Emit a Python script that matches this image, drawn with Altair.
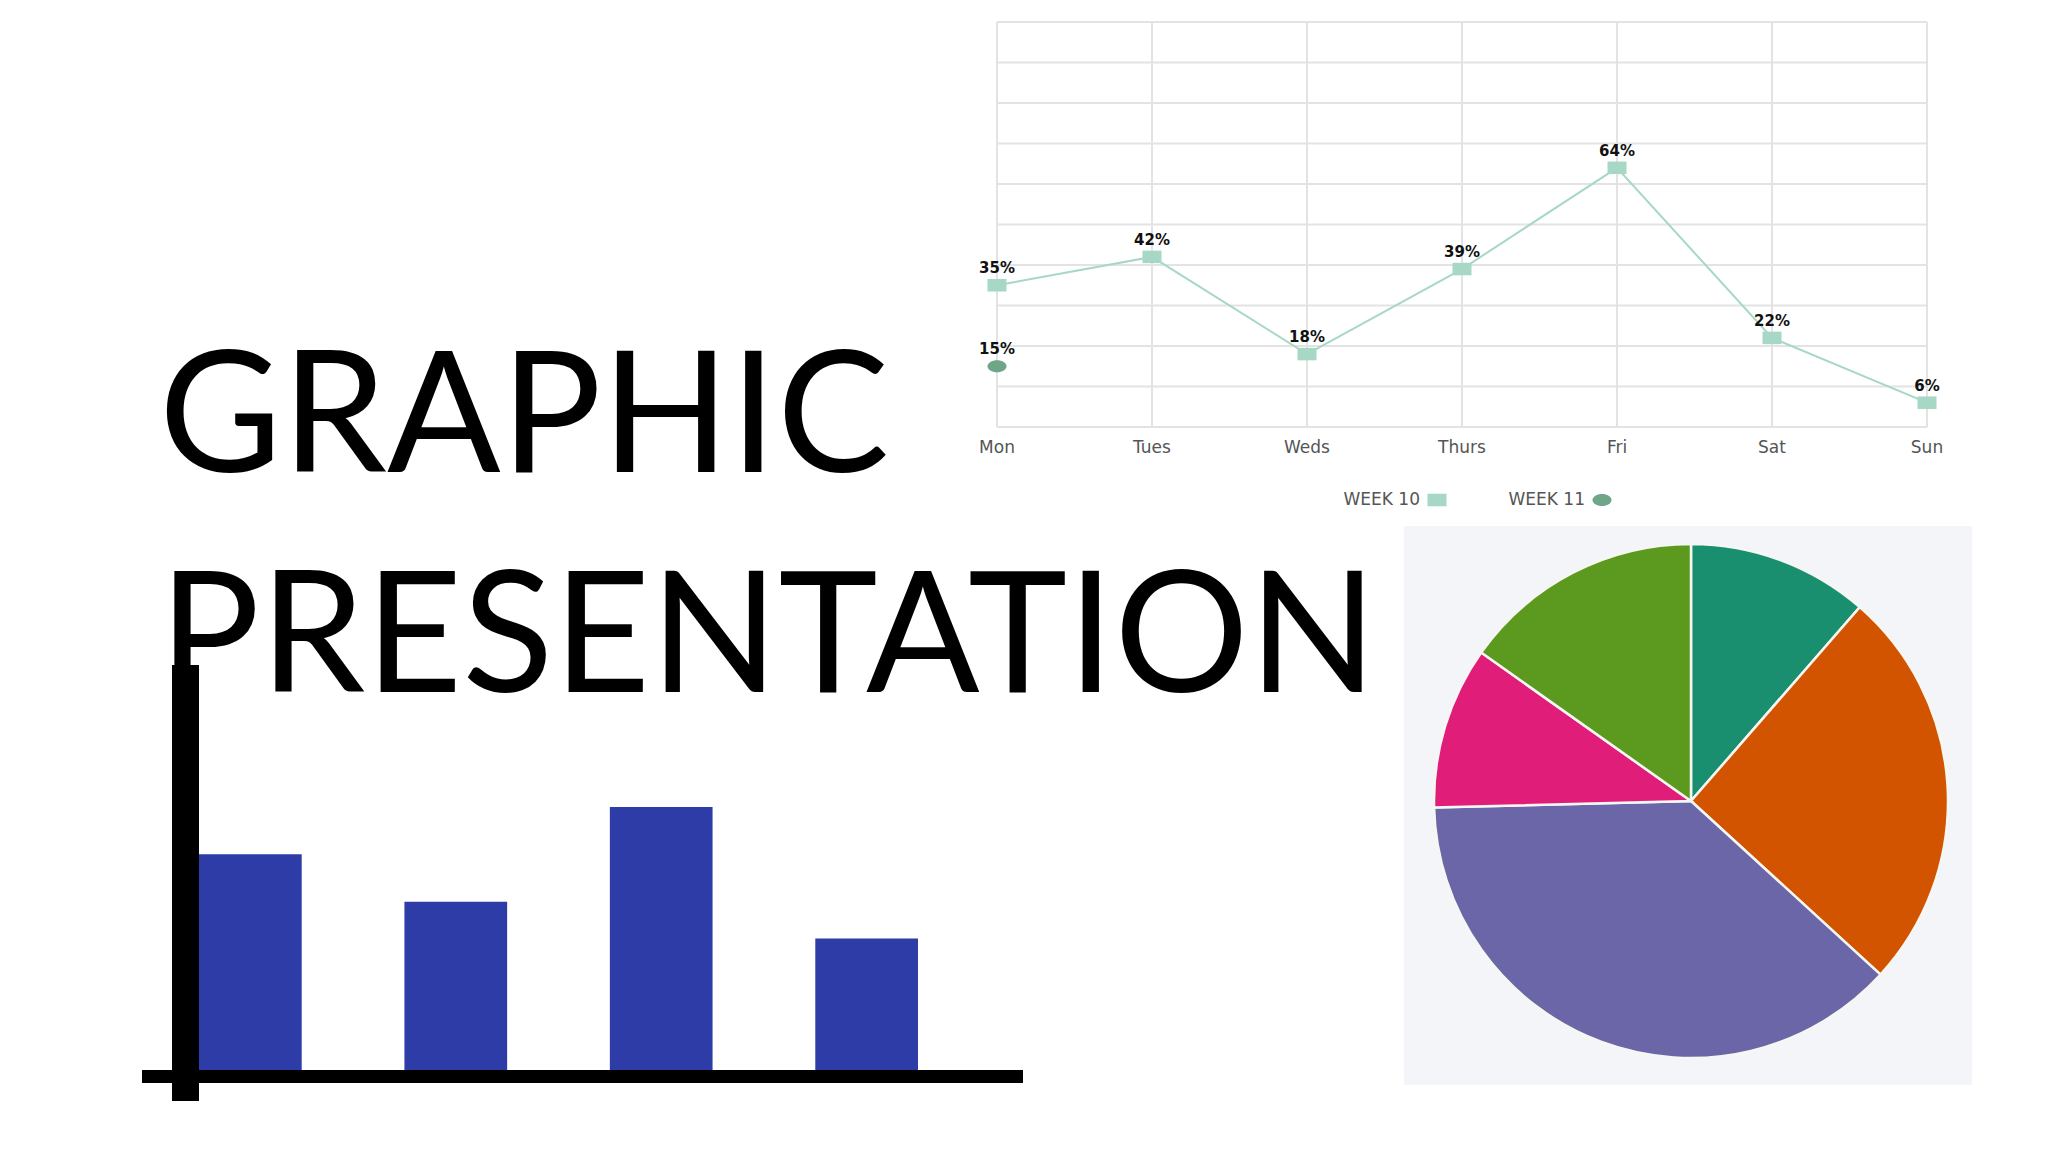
import altair as alt
import pandas as pd

# ---------------- data ----------------
days = ["Mon", "Tues", "Weds", "Thurs", "Fri", "Sat", "Sun"]
week10 = [35, 42, 18, 39, 64, 22, 6]
week11_days = ["Mon"]
week11 = [15]
grid_ticks = [0, 10, 20, 30, 40, 50, 60, 70, 80, 90, 100]
legend_labels = ["WEEK 10", "WEEK 11"]

bar_cats = ["A", "B", "C", "D"]
bar_vals = [41, 32, 50, 25]

pie_cats = ["Teal", "Orange", "Purple", "Pink", "Green"]
pie_vals = [11.4, 25.4, 37.8, 10.2, 15.2]
pie_colors = ["#1a8f6f", "#d35400", "#6a66a8", "#e01e7a", "#5c9a1f"]

title_lines = ["GRAPHIC", "PRESENTATION"]

W, H = 2032, 1136

# ---------------- scales ----------------
x_day = alt.Scale(type="point", domain=days, range=[989, 1919], padding=0)
y_pct = alt.Scale(domain=[0, 100], range=[419, 14])
x_bar = alt.Scale(type="band", domain=bar_cats, range=[191, 910], paddingInner=0.5, paddingOuter=0)
y_bar = alt.Scale(domain=[0, 50], range=[1062, 799])

SQ = "M-1,-0.66L1,-0.66L1,0.66L-1,0.66Z"
EL = "M-1,0A1,0.64,0,1,1,1,0A1,0.64,0,1,1,-1,0Z"
C10 = "#a6d8c5"
C11 = "#6fa688"

# ---------------- title ----------------
title_df = pd.DataFrame({"line": title_lines})
title = alt.Chart(title_df).mark_text(
    font="Lato", fontSize=168, align="left", baseline="alphabetic", color="#000000"
).encode(
    x=alt.value(151),
    y=alt.Y("line:N", scale=alt.Scale(type="point", domain=title_lines, range=[464, 684], padding=0), axis=None),
    text="line:N",
)

# ---------------- line chart ----------------
hgrid_df = pd.DataFrame({"tick": grid_ticks, "x0": days[0], "x1": days[-1]})
hgrid = alt.Chart(hgrid_df).mark_rule(color="#e3e3e3", strokeWidth=2).encode(
    x=alt.X("x0:N", scale=x_day, axis=None),
    x2="x1",
    y=alt.Y("tick:Q", scale=y_pct, axis=None),
)
vgrid_df = pd.DataFrame({"day": days, "lo": 0, "hi": 100})
vgrid = alt.Chart(vgrid_df).mark_rule(color="#e3e3e3", strokeWidth=2).encode(
    x=alt.X("day:N", scale=x_day, axis=None),
    y=alt.Y("lo:Q", scale=y_pct, axis=None),
    y2="hi",
)

w10_df = pd.DataFrame({"day": days, "v": week10, "lab": [f"{v}%" for v in week10]})
w11_df = pd.DataFrame({"day": week11_days, "v": week11, "lab": [f"{v}%" for v in week11]})

line10 = alt.Chart(w10_df).mark_line(color=C10, strokeWidth=2).encode(
    x=alt.X("day:N", scale=x_day, sort=days, axis=None),
    y=alt.Y("v:Q", scale=y_pct, axis=None),
)
pts10 = alt.Chart(w10_df).mark_point(shape=SQ, size=361, filled=True, color=C10, opacity=1).encode(
    x=alt.X("day:N", scale=x_day, axis=None),
    y=alt.Y("v:Q", scale=y_pct, axis=None),
)
pts11 = alt.Chart(w11_df).mark_point(shape=EL, size=361, filled=True, color=C11, opacity=1).encode(
    x=alt.X("day:N", scale=x_day, axis=None),
    y=alt.Y("v:Q", scale=y_pct, axis=None),
)
lab10 = alt.Chart(w10_df).mark_text(
    font="DejaVu Sans", fontWeight="bold", fontSize=15, dy=-17, color="#111111"
).encode(
    x=alt.X("day:N", scale=x_day, axis=None),
    y=alt.Y("v:Q", scale=y_pct, axis=None),
    text="lab:N",
)
lab11 = alt.Chart(w11_df).mark_text(
    font="DejaVu Sans", fontWeight="bold", fontSize=15, dy=-17, color="#111111"
).encode(
    x=alt.X("day:N", scale=x_day, axis=None),
    y=alt.Y("v:Q", scale=y_pct, axis=None),
    text="lab:N",
)
day_df = pd.DataFrame({"day": days})
day_labels = alt.Chart(day_df).mark_text(
    font="DejaVu Sans", fontSize=17, baseline="middle", dy=21, color="#555555"
).encode(
    x=alt.X("day:N", scale=x_day, axis=None),
    y=alt.YDatum(0, scale=y_pct, axis=None),
    text="day:N",
)

leg_df = pd.DataFrame({"lab": legend_labels})
x_leg = alt.Scale(type="point", domain=legend_labels, range=[1429, 1594], padding=0)
leg_sym10 = alt.Chart(pd.DataFrame({"lab": legend_labels[:1]})).mark_point(
    shape=SQ, size=361, filled=True, color=C10, opacity=1
).encode(x=alt.X("lab:N", scale=x_leg, axis=None), y=alt.value(492))
leg_sym11 = alt.Chart(pd.DataFrame({"lab": legend_labels[1:]})).mark_point(
    shape=EL, size=361, filled=True, color=C11, opacity=1
).encode(x=alt.X("lab:N", scale=x_leg, axis=None), y=alt.value(492))
leg_text = alt.Chart(leg_df).mark_text(
    font="DejaVu Sans", fontSize=17, align="right", baseline="middle", dx=-17, color="#555555"
).encode(x=alt.X("lab:N", scale=x_leg, axis=None), y=alt.value(492), text="lab:N")

# ---------------- bar chart ----------------
bar_df = pd.DataFrame({"cat": bar_cats, "v": bar_vals})
bars = alt.Chart(bar_df).mark_bar(color="#2e3ca8").encode(
    x=alt.X("cat:N", scale=x_bar, axis=None),
    y=alt.Y("v:Q", scale=y_bar, axis=None),
)
axis_df = pd.DataFrame({"k": [0]})
h_axis = alt.Chart(axis_df).mark_rule(color="#000000", strokeWidth=13).encode(
    x=alt.value(134), x2=alt.value(1015), y=alt.value(1068.5)
)
v_axis = alt.Chart(axis_df).mark_rule(color="#000000", strokeWidth=27).encode(
    x=alt.value(177.5), y=alt.value(657), y2=alt.value(1093)
)

# ---------------- pie ----------------
pie_bg = alt.Chart(axis_df).mark_rect(color="#f4f5f9").encode(
    x=alt.value(1396), x2=alt.value(1964), y=alt.value(518), y2=alt.value(1077)
)
pie_df = pd.DataFrame({"cat": pie_cats, "v": pie_vals, "idx": list(range(len(pie_cats)))})
pie = alt.Chart(pie_df).mark_arc(outerRadius=257, stroke="#f6f6f2", strokeWidth=2.5).encode(
    theta=alt.Theta("v:Q", stack=True),
    order=alt.Order("idx:Q"),
    color=alt.Color("cat:N", scale=alt.Scale(domain=pie_cats, range=pie_colors), legend=None),
    x=alt.value(1683),
    y=alt.value(793),
)

chart = alt.layer(
    pie_bg, pie,
    hgrid, vgrid, line10, pts10, pts11, lab10, lab11, day_labels,
    leg_text, leg_sym10, leg_sym11,
    bars, h_axis, v_axis,
    title,
).resolve_scale(
    x="independent", y="independent", color="independent", theta="independent"
).properties(
    width=W, height=H, padding=0, autosize=alt.AutoSizeParams(type="none"), background="#ffffff"
).configure_view(stroke=None)

chart.save("out.html", embed_options={"renderer": "svg", "actions": False})
